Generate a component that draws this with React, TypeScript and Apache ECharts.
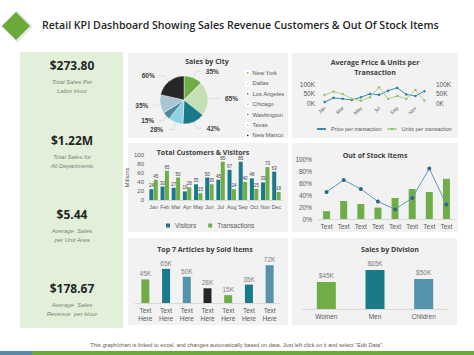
import React, { useEffect, useRef } from "react";
import * as echarts from "echarts";

const cities = ["New York", "Dallas", "Los Angeles", "Chicago", "Washington", "Texas", "New Marico"];
const cityValues = [35, 65, 42, 28, 15, 35, 60];

const months = ["Jan", "Feb", "Mar", "Apr", "May", "Jun", "Jul", "Aug", "Sep", "Oct", "Nov", "Dec"];
const pricePerTransaction = [5, 27, 22, 16, 30, 48, 43, 65, 80, 45, 37, 62];
const unitsPerTransaction = [42, 60, 47, 22, 12, 30, 83, 22, 37, 22, 68, 13];

const visitors = [24, 30, 27, 19, 35, 50, 45, 67, 85, 48, 39, 63];
const transactions = [45, 65, 50, 28, 15, 35, 85, 24, 40, 25, 73, 18];

const stockCategories = ["Text", "Text", "Text", "Text", "Text", "Text", "Text", "Text"];
const stockBars = [13, 30, 25, 19, 35, 50, 45, 67];
const stockLine = [45, 65, 50, 29, 16, 35, 84, 24];

const articleCategories = ["Text\nHere", "Text\nHere", "Text\nHere", "Text\nHere", "Text\nHere", "Text\nHere", "Text\nHere"];
const articleValues = [45, 65, 50, 28, 15, 35, 72];

const divisions = ["Women", "Men", "Children"];
const divisionValues = [45, 65, 50];

const kpiValues = ["$273.80", "$1.22M", "$5.44", "$178.67"];
const kpiLabels = [
  ["Total Sales Per", "Labor Hour"],
  ["Total Sales for", "All Departments"],
  ["Average  Sales", "per Unit Area"],
  ["Average  Sales", "Revenue  per Hour"],
];

const GREEN = "#70ad47";
const TEAL = "#1b7a8a";
const STEEL = "#5592ab";
const BLACK = "#262626";
const cityColors = [GREEN, "#c5e0b4", TEAL, "#8fd3e2", "#4f8a9c", "#a9c5d3", BLACK];
const articleColors = [GREEN, TEAL, STEEL, BLACK, GREEN, TEAL, STEEL];
const divisionColors = [GREEN, TEAL, STEEL];

const AXIS_TEXT = "#595959";
const TITLE_FONT = "'Open Sans', sans-serif";
const BODY_FONT = "'Liberation Sans', Arial, sans-serif";

export default function App() {
  const ref = useRef<HTMLDivElement>(null);

  useEffect(() => {
    if (!ref.current) return;
    const chart = echarts.init(ref.current, undefined, { renderer: "svg" });

    const panels = [
      [128, 53, 160, 85],
      [292, 53, 166, 85],
      [128, 143, 160, 89],
      [292, 143, 166, 89],
      [128, 238, 160, 87],
      [292, 238, 165, 87],
    ];

    const panelTitle = (x: number, y: number, text: string) => ({
      type: "text",
      x,
      y,
      style: {
        text,
        fill: "#404040",
        font: `bold 7px ${TITLE_FONT}`,
        align: "center",
        verticalAlign: "middle",
      },
    });

    const kpiY = [65, 140, 214, 288];
    const graphics: any[] = [
      { type: "rect", shape: { x: 0, y: 0, width: 474, height: 355 }, style: { fill: "#ffffff" }, silent: true },
      // logo diamond
      { type: "polygon", shape: { points: [[17, 10.5], [33, 26.5], [17, 42.5], [1, 26.5]] }, style: { fill: "#e6e6e6" } },
      { type: "polygon", shape: { points: [[16, 12], [30, 26], [16, 40], [2, 26]] }, style: { fill: "#6aaa3a" } },
      {
        type: "text",
        x: 42,
        y: 25,
        style: {
          text: "Retail KPI Dashboard Showing Sales Revenue Customers & Out Of Stock Items",
          fill: "#262626",
          font: `600 10.6px ${TITLE_FONT}`,
          verticalAlign: "middle",
        },
      },
      // KPI panel
      { type: "rect", shape: { x: 20, y: 52, width: 103, height: 276 }, style: { fill: "#e2f0d9" } },
      ...panels.map((p) => ({
        type: "rect",
        shape: { x: p[0], y: p[1], width: p[2], height: p[3] },
        style: { fill: "#f2f2f2" },
      })),
      panelTitle(207, 61, "Sales by City"),
      panelTitle(375, 62, "Average Price & Units per"),
      panelTitle(375, 72, "Transaction"),
      panelTitle(203, 152, "Total Customers & Visitors"),
      panelTitle(375, 155, "Out of Stock Items"),
      panelTitle(205, 249, "Top 7 Articles by Sold Items"),
      panelTitle(390, 249, "Sales by Division"),
      // footer
      {
        type: "text",
        x: 237,
        y: 345,
        style: {
          text: 'This graph/chart is linked to excel, and changes automatically based on data. Just left click on it and select "Edit Data".',
          fill: "#595959",
          font: `5.6px ${BODY_FONT}`,
          align: "center",
          verticalAlign: "middle",
        },
      },
      { type: "rect", shape: { x: 0, y: 351, width: 32, height: 4 }, style: { fill: "#5a88a8" } },
      { type: "rect", shape: { x: 32, y: 351, width: 442, height: 4 }, style: { fill: "#6aaa3a" } },
    ];

    kpiValues.forEach((v, i) => {
      graphics.push({
        type: "text",
        x: 72,
        y: kpiY[i],
        style: { text: v, fill: "#262626", font: `bold 12px 'Noto Sans', sans-serif`, align: "center", verticalAlign: "middle" },
      });
      kpiLabels[i].forEach((l, j) => {
        graphics.push({
          type: "text",
          x: 72,
          y: kpiY[i] + 17 + j * 8.5,
          style: { text: l, fill: "#7f7f7f", font: `italic 6px ${BODY_FONT}`, align: "center", verticalAlign: "middle" },
        });
      });
    });

    const axisLabel = { color: AXIS_TEXT, fontSize: 6, fontFamily: BODY_FONT };

    chart.setOption({
      animation: false,
      backgroundColor: "#ffffff",
      graphic: { elements: graphics },
      legend: [
        {
          data: cities,
          orient: "vertical",
          left: 245,
          top: 70,
          itemWidth: 3.5,
          itemHeight: 3.5,
          itemGap: 4.4,
          icon: "rect",
          textStyle: { color: AXIS_TEXT, fontSize: 5.8, fontFamily: BODY_FONT, padding: [0, 0, 0, -2] },
          padding: 0,
        },
        {
          data: ["Price per transaction", "Units per transaction"],
          left: 316,
          top: 126,
          itemWidth: 9,
          itemHeight: 3,
          itemGap: 5,
          textStyle: { color: AXIS_TEXT, fontSize: 5.5, fontFamily: BODY_FONT },
          padding: 0,
        },
        {
          data: ["Visitors", "Transactions"],
          left: 166,
          top: 222,
          itemWidth: 4,
          itemHeight: 4,
          itemGap: 12,
          icon: "rect",
          textStyle: { color: AXIS_TEXT, fontSize: 6.5, fontFamily: BODY_FONT },
          padding: 0,
        },
      ],
      grid: [
        { left: 320, top: 84, width: 109, height: 19 },
        { left: 148, top: 155, width: 134, height: 45 },
        { left: 318, top: 159, width: 137, height: 60 },
        { left: 135, top: 261, width: 145, height: 42 },
        { left: 302, top: 261, width: 146, height: 48 },
      ],
      xAxis: [
        {
          gridIndex: 0,
          type: "category",
          data: months,
          axisTick: { show: false },
          axisLine: { show: false },
          axisLabel: { ...axisLabel, fontSize: 5, rotate: 45, margin: 4 },
        },
        {
          gridIndex: 1,
          type: "category",
          data: months,
          axisTick: { show: false },
          axisLine: { lineStyle: { color: "#d9d9d9" } },
          axisLabel: { ...axisLabel, fontSize: 5.3, margin: 4, interval: 0 },
        },
        {
          gridIndex: 2,
          type: "category",
          data: stockCategories,
          axisTick: { show: false },
          axisLine: { lineStyle: { color: "#d9d9d9" } },
          axisLabel: { ...axisLabel, fontSize: 6.5, margin: 4, interval: 0 },
        },
        {
          gridIndex: 3,
          type: "category",
          data: articleCategories,
          axisTick: { show: false },
          axisLine: { lineStyle: { color: "#d9d9d9" } },
          axisLabel: { ...axisLabel, fontSize: 6.5, margin: 3, lineHeight: 8, interval: 0 },
        },
        {
          gridIndex: 4,
          type: "category",
          data: divisions,
          axisTick: { show: false },
          axisLine: { lineStyle: { color: "#d9d9d9" } },
          axisLabel: { ...axisLabel, fontSize: 6.5, margin: 4, interval: 0 },
        },
      ],
      yAxis: [
        {
          gridIndex: 0,
          type: "value",
          min: 0,
          max: 100,
          interval: 50,
          splitLine: { show: false },
          axisLabel: { ...axisLabel, fontSize: 6.5, formatter: "{value}K", margin: 5 },
        },
        {
          gridIndex: 0,
          type: "value",
          position: "right",
          min: 0,
          max: 100,
          interval: 50,
          splitLine: { show: false },
          axisLabel: { ...axisLabel, fontSize: 6.5, formatter: "{value}K", margin: 7 },
        },
        {
          gridIndex: 1,
          type: "value",
          min: 0,
          max: 100,
          interval: 20,
          splitLine: { show: false },
          name: "Millions",
          nameLocation: "middle",
          nameRotate: 90,
          nameGap: 13,
          nameTextStyle: { color: AXIS_TEXT, fontSize: 6, fontFamily: BODY_FONT },
          axisLabel: { ...axisLabel, fontSize: 6, margin: 4 },
        },
        {
          gridIndex: 2,
          type: "value",
          min: 0,
          max: 100,
          interval: 20,
          splitLine: { show: false },
          axisLabel: { ...axisLabel, fontSize: 6.5, formatter: "{value}%", margin: 6 },
        },
        { gridIndex: 3, type: "value", min: 0, max: 80, show: false },
        { gridIndex: 4, type: "value", min: 0, max: 80, show: false },
      ],
      series: [
        {
          type: "pie",
          center: [184, 100],
          radius: 24,
          startAngle: 90,
          clockwise: true,
          data: cities.map((c, i) => ({ name: c, value: cityValues[i], itemStyle: { color: cityColors[i] } })),
          label: {
            formatter: "{c}%",
            color: "#404040",
            fontSize: 6.5,
            fontWeight: "bold",
            fontFamily: BODY_FONT,
          },
          labelLine: { length: 7, length2: 5, lineStyle: { color: "#d0d0d0", width: 0.6 } },
          itemStyle: { borderColor: "#ffffff", borderWidth: 0.4 },
        },
        {
          name: "Price per transaction",
          type: "line",
          xAxisIndex: 0,
          yAxisIndex: 0,
          data: pricePerTransaction,
          symbol: "circle",
          symbolSize: 2.5,
          lineStyle: { color: "#3b8db0", width: 1 },
          itemStyle: { color: "#2f7fa0" },
        },
        {
          name: "Units per transaction",
          type: "line",
          xAxisIndex: 0,
          yAxisIndex: 1,
          data: unitsPerTransaction,
          symbol: "circle",
          symbolSize: 2.5,
          lineStyle: { color: "#a9d18e", width: 1 },
          itemStyle: { color: "#8fc46a" },
        },
        {
          name: "Visitors",
          type: "bar",
          xAxisIndex: 1,
          yAxisIndex: 2,
          data: visitors,
          barWidth: 4,
          barGap: "10%",
          itemStyle: { color: TEAL },
          label: { show: true, position: "top", fontSize: 4.5, color: "#404040", distance: 1, fontFamily: BODY_FONT },
        },
        {
          name: "Transactions",
          type: "bar",
          xAxisIndex: 1,
          yAxisIndex: 2,
          data: transactions,
          barWidth: 4,
          itemStyle: { color: GREEN },
          label: { show: true, position: "top", fontSize: 4.5, color: "#404040", distance: 1, fontFamily: BODY_FONT },
        },
        {
          name: "Out of stock",
          type: "bar",
          xAxisIndex: 2,
          yAxisIndex: 3,
          data: stockBars,
          barWidth: 7,
          itemStyle: { color: GREEN },
        },
        {
          name: "Out of stock trend",
          type: "line",
          xAxisIndex: 2,
          yAxisIndex: 3,
          data: stockLine,
          symbol: "circle",
          symbolSize: 4,
          lineStyle: { color: "#5b9bc0", width: 1 },
          itemStyle: { color: "#2e6a85" },
        },
        {
          name: "Top articles",
          type: "bar",
          xAxisIndex: 3,
          yAxisIndex: 4,
          data: articleValues.map((v, i) => ({ value: v, itemStyle: { color: articleColors[i] } })),
          barWidth: 8,
          label: { show: true, position: "top", formatter: "{c}K", fontSize: 6.5, color: "#7f7f7f", distance: 2, fontFamily: BODY_FONT },
        },
        {
          name: "Division",
          type: "bar",
          xAxisIndex: 4,
          yAxisIndex: 5,
          data: divisionValues.map((v, i) => ({ value: v, itemStyle: { color: divisionColors[i] } })),
          barWidth: 19,
          label: { show: true, position: "top", formatter: "${c}K", fontSize: 6.5, color: "#7f7f7f", distance: 3, fontFamily: BODY_FONT },
        },
      ],
    });

    return () => chart.dispose();
  }, []);

  return (
    <div
      ref={ref}
      style={{ position: "absolute", left: 0, top: 0, width: 474, height: 355 }}
    />
  );
}
